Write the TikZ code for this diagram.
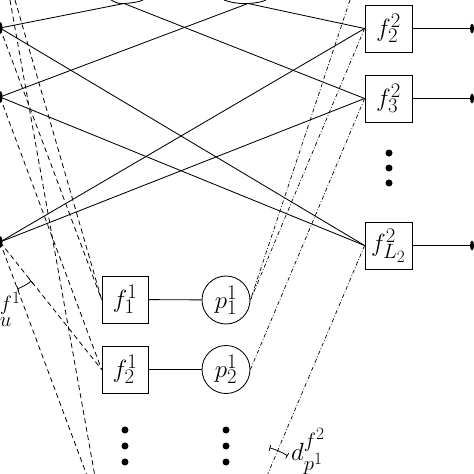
\documentclass[tikz,border=0pt]{standalone}
\usetikzlibrary{arrows.meta,calc}
\begin{document}
\begin{tikzpicture}[x=1pt,y=-1pt,
  every node/.style={font=\Huge},
  fbox/.style={draw, line width=0.85pt, minimum width=47pt, minimum height=47pt, inner sep=0pt},
  pnode/.style={draw, line width=0.85pt, circle, minimum size=48pt, inner sep=0pt},
  link/.style={line width=0.85pt},
  dlink/.style={line width=0.8pt, dash pattern=on 5pt off 3.5pt},
  ddlink/.style={line width=0.7pt, dash pattern=on 4pt off 2pt on 0.8pt off 2pt},
  dotm/.style={fill, circle, inner sep=0pt, minimum size=7pt},
  marker/.style={line width=0.8pt, {Bar[width=6pt]}-{Bar[width=6pt]}},
  lbl/.style={anchor=base west, inner sep=0pt}]
\useasboundingbox (0,0) rectangle (474,474);
\clip (0,0) rectangle (474,474);

% layer-2 boxes
\node[fbox] (f22) at (388.5,28.5) {$f_2^2$};
\node[fbox] (f23) at (388.5,98.5) {$f_3^2$};
\node[fbox] (f2L) at (388.5,245.5) {$f_{L_2}^2$};
% layer-1 boxes and processors
\node[fbox, minimum width=46pt] (f11) at (125,299.5) {$f_1^1$};
\node[fbox, minimum width=46pt] (f12) at (125,369.5) {$f_2^1$};
\node[pnode] (p11) at (226,300) {$p_1^1$};
\node[pnode] (p12) at (226,369.5) {$p_2^1$};
% off-frame ends
\coordinate (uA) at (0,28);
\coordinate (uB) at (0,97);
\coordinate (uC) at (0,242);
\coordinate (oA) at (472,28.5);
\coordinate (oB) at (472,98.5);
\coordinate (oC) at (472,245.5);
\coordinate (t1) at (124,3.5);
\coordinate (t2) at (248,3.5);
\coordinate (tdA) at (10,0);
\coordinate (tdB) at (15,0);
\coordinate (ddt) at (350,0);
\coordinate (f1Lw) at (102,516);
\coordinate (p1Le) at (250,516);

% top partial shapes
\draw[link] (111,0) .. controls (116,3) and (120,4) .. (t1) .. controls (132,3) and (139,2) .. (143,0);
\draw[link] (224,0) .. controls (232,3) and (242,4) .. (t2) .. controls (256,3) and (262,2) .. (266,0);

% solid links
\draw[link] (uA) -- (t1);
\draw[link] (t1) -- (f23.west);
\draw[link] (uB) -- (t2);
\draw[link] (t2) -- (f22.west);
\draw[link] (uA) -- (f2L.west);
\draw[link] (uB) -- (f2L.west);
\draw[link] (uC) -- (f22.west);
\draw[link] (uC) -- (f23.west);
\draw[link] (f11) -- (p11);
\draw[link] (f12) -- (p12);
\draw[link] (f22) -- (oA);
\draw[link] (f23) -- (oB);
\draw[link] (f2L) -- (oC);

% end marks
\foreach \c in {uA,uB,uC} \fill (\c) ellipse[x radius=2.5pt, y radius=6pt];
\foreach \c in {oA,oB,oC} \fill (\c) ellipse[x radius=2pt, y radius=5pt];

% dashed links
\draw[dlink] (uA) -- (f11.west);
\draw[dlink] (tdB) -- (f11.west);
\draw[dlink] (uB) -- (f12.west);
\draw[dlink] (uC) -- (f12.west);
\draw[dlink] (uC) -- (f1Lw);
\draw[dlink] (tdA) -- (f1Lw);

% dash-dot links
\draw[ddlink] (ddt) -- (p11.east);
\draw[ddlink] (f22.west) -- (p11.east);
\draw[ddlink] (f23.west) -- (p12.east);
\draw[ddlink] (f2L.west) -- (p1Le);

% markers
\draw[marker] ($(uC)+(51.2:50)$) arc[start angle=51.2, end angle=69.6, radius=50];
\draw[marker] ($(p1Le)+(-74:71)$) arc[start angle=-74, end angle=-58, radius=71];
\node[lbl] (lu) at (-13,320) {$d_u^{f^1}$};
\node[lbl] (lp) at (291,460) {$d_{p^1}^{f^2}$};

% vertical dots
\foreach \y in {153,168,183} \node[dotm] at (389,\y) {};
\foreach \y in {430,446,462} {\node[dotm] at (125,\y) {}; \node[dotm] at (226,\y) {};}
\end{tikzpicture}
\end{document}
